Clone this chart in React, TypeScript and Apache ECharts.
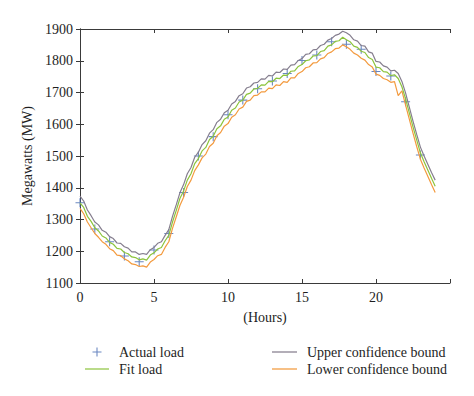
import React, { useEffect, useRef } from "react";
import * as echarts from "echarts";

const hours = [
  0, 0.25, 0.5, 0.75, 1, 1.25, 1.5, 1.75, 2, 2.25, 2.5, 2.75, 3, 3.25, 3.5, 3.75,
  4, 4.25, 4.5, 4.75, 5, 5.25, 5.5, 5.75, 6, 6.25, 6.5, 6.75, 7, 7.25, 7.5, 7.75,
  8, 8.25, 8.5, 8.75, 9, 9.25, 9.5, 9.75, 10, 10.25, 10.5, 10.75, 11, 11.25, 11.5, 11.75,
  12, 12.25, 12.5, 12.75, 13, 13.25, 13.5, 13.75, 14, 14.25, 14.5, 14.75, 15, 15.25, 15.5, 15.75,
  16, 16.25, 16.5, 16.75, 17, 17.25, 17.5, 17.75, 18, 18.25, 18.5, 18.75, 19, 19.25, 19.5, 19.75,
  20, 20.25, 20.5, 20.75, 21, 21.25, 21.5, 21.75, 22, 22.25, 22.5, 22.75, 23, 23.25, 23.5, 23.75,
  24,
];

const fitLoad = [
  1352, 1338, 1310, 1294, 1274, 1264, 1248, 1242, 1228, 1222, 1209, 1207, 1196, 1192, 1182, 1180,
  1173, 1176, 1172, 1188, 1195, 1207, 1212, 1233, 1250, 1292, 1328, 1366, 1390, 1424, 1444, 1476,
  1492, 1516, 1527, 1552, 1562, 1586, 1595, 1616, 1623, 1644, 1651, 1670, 1676, 1694, 1698, 1711,
  1713, 1724, 1723, 1735, 1734, 1745, 1744, 1755, 1754, 1767, 1768, 1782, 1788, 1800, 1803, 1815,
  1816, 1829, 1832, 1846, 1850, 1861, 1863, 1874, 1866, 1860, 1846, 1842, 1830, 1826, 1810, 1804,
  1780, 1778, 1766, 1764, 1753, 1756, 1744, 1718, 1680, 1636, 1592, 1551, 1510, 1482, 1456, 1430,
  1405,
];

const upperBound = [
  1374, 1358, 1330, 1312, 1292, 1283, 1266, 1260, 1246, 1240, 1226, 1225, 1214, 1210, 1198, 1198,
  1190, 1193, 1190, 1205, 1212, 1225, 1230, 1250, 1268, 1310, 1346, 1384, 1410, 1444, 1464, 1496,
  1512, 1536, 1548, 1572, 1583, 1606, 1616, 1636, 1644, 1664, 1672, 1690, 1696, 1714, 1718, 1730,
  1732, 1743, 1742, 1754, 1752, 1764, 1763, 1774, 1773, 1786, 1788, 1801, 1807, 1820, 1822, 1834,
  1836, 1848, 1852, 1865, 1870, 1880, 1884, 1893, 1888, 1880, 1866, 1862, 1848, 1846, 1828, 1824,
  1798, 1796, 1784, 1780, 1768, 1770, 1760, 1735, 1698, 1654, 1610, 1568, 1528, 1500, 1474, 1448,
  1424,
];

const lowerBound = [
  1335, 1318, 1292, 1274, 1256, 1244, 1230, 1222, 1208, 1202, 1188, 1186, 1176, 1170, 1160, 1158,
  1152, 1154, 1150, 1166, 1174, 1186, 1190, 1212, 1230, 1272, 1308, 1344, 1370, 1404, 1424, 1454,
  1472, 1494, 1506, 1530, 1540, 1564, 1574, 1594, 1602, 1622, 1630, 1648, 1654, 1672, 1676, 1690,
  1692, 1702, 1702, 1714, 1712, 1724, 1722, 1734, 1732, 1746, 1746, 1760, 1766, 1778, 1781, 1793,
  1794, 1806, 1810, 1823, 1828, 1838, 1840, 1850, 1844, 1836, 1824, 1818, 1808, 1802, 1788, 1780,
  1758, 1754, 1744, 1740, 1732, 1734, 1690, 1705, 1660, 1616, 1572, 1530, 1490, 1462, 1436, 1410,
  1385,
];

const actualHours = [0, 1, 2, 3, 4, 5, 6, 7, 8, 9, 10, 11, 12, 13, 14, 15, 16, 17, 18, 19, 20, 21, 22, 23];
const actualLoad = [
  1353, 1270, 1230, 1185, 1167, 1204, 1256, 1385, 1500, 1561, 1630, 1676,
  1712, 1736, 1760, 1801, 1818, 1860, 1852, 1836, 1766, 1752, 1671, 1503,
];

const xTicks = [0, 5, 10, 15, 20];
const yMin = 1100;
const yMax = 1900;

const PLUS = "path://M4.4,0H5.6V4.4H10V5.6H5.6V10H4.4V5.6H0V4.4H4.4Z";
const DASH = "path://M0,0H24V1.2H0Z";
const FONT = "'Liberation Serif', 'Times New Roman', serif";
const AXIS = "#3a3a3a";
const TEXT = "#1e1e1e";

export default function App() {
  const ref = useRef<HTMLDivElement>(null);
  useEffect(() => {
    if (!ref.current) return;
    const chart = echarts.init(ref.current, null, { renderer: "svg" });
    const pair = (ys: number[]) => hours.map((h, i) => [h, ys[i]]);
    const tickAxis = {
      axisLine: { show: true, lineStyle: { color: AXIS, width: 1 } },
      axisTick: { show: true, inside: true, length: 4, lineStyle: { color: AXIS } },
      splitLine: { show: false },
    };
    const legendText = { color: TEXT, fontFamily: FONT, fontSize: 14, lineHeight: 14, padding: [0, 0, 0, 5] };
    chart.setOption({
      animation: false,
      backgroundColor: "#ffffff",
      textStyle: { fontFamily: FONT },
      grid: { left: 80, right: 24, top: 29, bottom: 113 },
      xAxis: [
        {
          type: "value",
          min: 0,
          max: 25,
          interval: 5,
          position: "bottom",
          ...tickAxis,
          axisLabel: {
            color: TEXT,
            fontFamily: FONT,
            fontSize: 14,
            margin: 7,
            formatter: (v: number) => (xTicks.indexOf(v) >= 0 ? String(v) : ""),
          },
          name: "(Hours)",
          nameLocation: "middle",
          nameGap: 27,
          nameTextStyle: { color: TEXT, fontFamily: FONT, fontSize: 14 },
        },
        {
          type: "value",
          min: 0,
          max: 25,
          interval: 5,
          position: "top",
          ...tickAxis,
          axisLabel: { show: false },
        },
      ],
      yAxis: [
        {
          type: "value",
          min: yMin,
          max: yMax,
          interval: 100,
          position: "left",
          ...tickAxis,
          axisLabel: {
            color: TEXT,
            fontFamily: FONT,
            fontSize: 14,
            margin: 7,
            formatter: (v: number) => String(v),
          },
          name: "Megawatts (MW)",
          nameLocation: "middle",
          nameGap: 45,
          nameTextStyle: { color: TEXT, fontFamily: FONT, fontSize: 14 },
        },
        {
          type: "value",
          min: yMin,
          max: yMax,
          interval: 100,
          position: "right",
          ...tickAxis,
          axisLabel: { show: false },
        },
      ],
      legend: [
        {
          orient: "vertical",
          left: 80,
          top: 340,
          itemWidth: 24,
          itemHeight: 9,
          itemGap: 3,
          data: [{ name: "Actual load", icon: PLUS }, { name: "Fit load", icon: DASH }],
          textStyle: legendText,
        },
        {
          orient: "vertical",
          left: 267,
          top: 340,
          itemWidth: 25,
          itemHeight: 9,
          itemGap: 3,
          data: [
            { name: "Upper confidence bound", icon: DASH },
            { name: "Lower confidence bound", icon: DASH },
          ],
          textStyle: legendText,
        },
      ],
      series: [
        {
          name: "Upper confidence bound",
          type: "line",
          data: pair(upperBound),
          symbol: "none",
          lineStyle: { color: "#857e8e", width: 1.2 },
          itemStyle: { color: "#857e8e" },
        },
        {
          name: "Lower confidence bound",
          type: "line",
          data: pair(lowerBound),
          symbol: "none",
          lineStyle: { color: "#f39a3e", width: 1.2 },
          itemStyle: { color: "#f39a3e" },
        },
        {
          name: "Fit load",
          type: "line",
          data: pair(fitLoad),
          symbol: "none",
          lineStyle: { color: "#8cc43c", width: 1.2 },
          itemStyle: { color: "#8cc43c" },
        },
        {
          name: "Actual load",
          type: "scatter",
          data: actualHours.map((h, i) => [h, actualLoad[i]]),
          symbol: PLUS,
          symbolSize: 9,
          itemStyle: { color: "#4569b0" },
        },
      ],
    });
    return () => chart.dispose();
  }, []);
  return (
    <div
      ref={ref}
      style={{ position: "fixed", left: 0, top: 0, width: 474, height: 396, background: "#fff" }}
    />
  );
}
